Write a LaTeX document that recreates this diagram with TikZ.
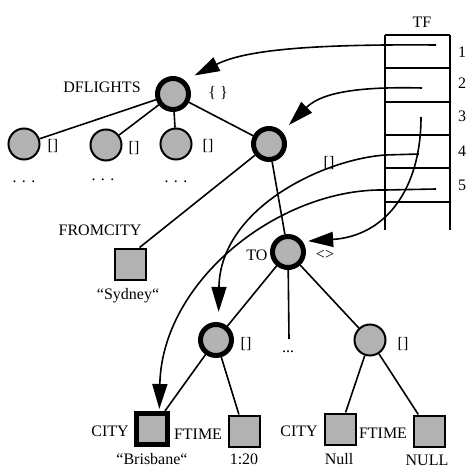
\documentclass[tikz,border=0pt]{standalone}
\usepackage{fontspec}
\setmainfont{Liberation Serif}
\usetikzlibrary{arrows.meta}
\begin{document}
\begin{tikzpicture}[x=1pt,y=-1pt,
  font=\fontsize{16}{19}\selectfont,
  ringnode/.style={circle, draw, line width=2pt, fill=gray!60, minimum size=31pt, inner sep=0pt},
  boldnode/.style={circle, draw, line width=5pt, fill=gray!60, minimum size=31pt, inner sep=0pt},
  leafbox/.style={rectangle, draw, line width=2pt, fill=gray!60, minimum size=31pt, inner sep=0pt},
  boldbox/.style={leafbox, line width=5pt},
  link/.style={line width=1.6pt},
  ptr/.style={line width=1.6pt, -{Triangle[length=25pt,width=15pt]}},
  lbl/.style={inner sep=0pt},
  tabline/.style={line width=2pt}]
\useasboundingbox (0,0) rectangle (474,471);

% ---- table TF ----
\draw[tabline] (385,35) -- (385,230) (450,35) -- (450,230);
\foreach \yy in {35,68,102,135,168,202} \draw[tabline] (385,\yy) -- (450,\yy);
\node[lbl] (tf) at (422,22) {TF};
\node[lbl] (n1) at (462,52) {1};
\node[lbl] (n2) at (462,83) {2};
\node[lbl] (n3) at (462,116) {3};
\node[lbl] (n4) at (462,151) {4};
\node[lbl] (n5) at (462,185) {5};
\coordinate (s1) at (436,45);
\coordinate (s2) at (422,88);
\coordinate (s3) at (421,117);
\coordinate (s4) at (419,154);
\coordinate (s5) at (436,189);

% ---- tree nodes ----
\node[boldnode] (df) at (173,94) {};
\node[ringnode] (l1) at (24,144) {};
\node[ringnode] (l2) at (106,145) {};
\node[ringnode] (l3) at (176,144) {};
\node[boldnode] (m) at (269,144) {};
\node[leafbox] (fc) at (130,264) {};
\node[boldnode] (to) at (288,252) {};
\coordinate (dotend) at (289,339);
\node[boldnode] (lc) at (216,340) {};
\node[ringnode] (rc) at (370,340) {};
\node[boldbox] (b1) at (152,429) {};
\node[leafbox] (b2) at (244,431) {};
\node[leafbox] (b3) at (340,429) {};
\node[leafbox] (b4) at (429,431) {};

% ---- edges ----
\draw[link] (df) -- (l1);
\draw[link] (df) -- (l2);
\draw[link] (df) -- (l3);
\draw[link] (df) -- (m);
\draw[link] (m) -- (fc.60);
\draw[link] (m) -- (to);
\draw[link] (to) -- (lc);
\draw[link] (to) -- (dotend);
\draw[link] (to) -- (rc);
\draw[link] (lc) -- (b1);
\draw[link] (lc) -- (b2);
\draw[link] (rc) -- (b3);
\draw[link] (rc) -- (b4);

% ---- pointers ----
\draw[ptr, shorten >=11pt] (s1) .. controls (310,44) and (245,50) .. (df.49);
\draw[ptr, shorten >=9.6pt] (s2) .. controls (345,86) and (318,96) .. (m.43.5);
\draw[ptr, shorten >=5.6pt] (s3) .. controls (421,190) and (385,236) .. (to.36);
\draw[ptr, shorten >=10.3pt] (s4) -- (385,155) .. controls (320,160) and (220,210) .. (lc.82);
\draw[ptr, shorten >=2pt] (s5) -- (385,190) .. controls (280,188) and (162,280) .. (b1.68);

% ---- labels ----
\node[lbl] (ldf) at (102,87) {DFLIGHTS};
\node[lbl] (lbr) at (218,93) {\{ \}};
\node[lbl] (ll1) at (53,146) {[]};
\node[lbl] (ll2) at (134,148) {[]};
\node[lbl] (ll3) at (208,146) {[]};
\node[lbl] (d1) at (24,182) {. . .};
\node[lbl] (d2) at (103,180) {. . .};
\node[lbl] (d3) at (176,182) {. . .};
\node[lbl] (lfc) at (100,230) {FROMCITY};
\node[lbl] (lsy) at (128,296) {“Sydney“};
\node[lbl] (lto) at (257,255) {TO};
\node[lbl] (lang) at (325,255) {<>};
\node[lbl] (lp4) at (329,163) {[]};
\node[lbl] (llc) at (246,344) {[]};
\node[lbl] (lrc) at (403,344) {[]};
\node[lbl] (ldots) at (288,352) {...};
\node[lbl] (c1) at (110,431) {CITY};
\node[lbl] (f1) at (198,434) {FTIME};
\node[lbl] (vb) at (152,459) {“Brisbane“};
\node[lbl] (vt) at (244,459) {1:20};
\node[lbl] (c2) at (299,431) {CITY};
\node[lbl] (f2) at (383,433) {FTIME};
\node[lbl] (vn) at (339,459) {Null};
\node[lbl] (vN) at (427,460) {NULL};
\end{tikzpicture}
\end{document}
